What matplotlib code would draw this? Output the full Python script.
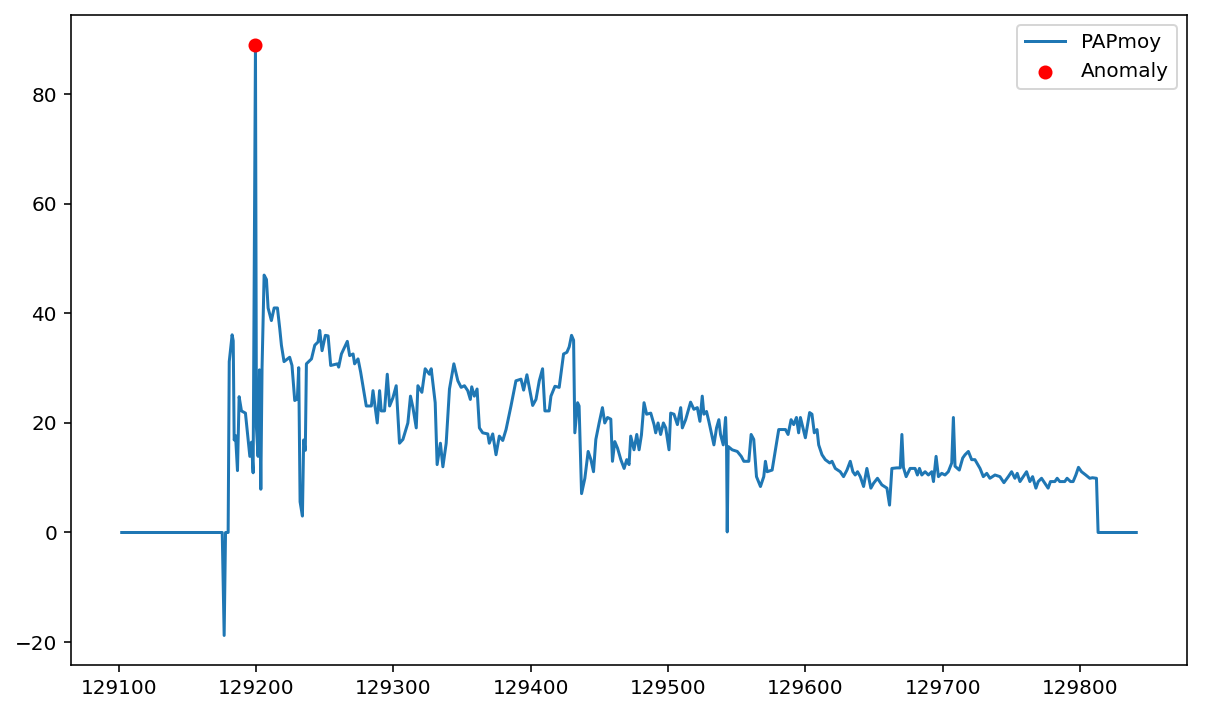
import matplotlib
matplotlib.use('Agg')
import matplotlib.pyplot as plt

# PAPmoy trace (x = sample index, y = value)
x_vals = [129102.1, 129175.3, 129176.7, 129177.7, 129179.6, 129180.4, 129182.5, 129183.3,
          129184.0, 129185.0, 129186.4, 129187.6, 129189.3, 129192.2, 129194.2, 129195.4,
          129196.6, 129197.8, 129199.5, 129200.2, 129201.4, 129202.4, 129203.4, 129204.3,
          129205.8, 129207.5, 129208.7, 129211.1, 129213.1, 129215.5, 129217.2, 129218.4,
          129220.3, 129224.4, 129226.1, 129228.1, 129230.0, 129231.0, 129232.0, 129233.7,
          129234.6, 129235.8,
          129236.6, 129240.3, 129242.7, 129245.1, 129246.3, 129248.0, 129250.4, 129252.4,
          129254.3, 129259.2, 129260.1, 129262.1, 129266.4, 129268.1, 129270.6, 129271.7,
          129274.2, 129276.1, 129280.2, 129283.9, 129285.1, 129288.2, 129289.9, 129291.1,
          129293.5, 129295.5, 129297.2, 129299.6, 129302.0, 129304.4, 129306.9, 129310.5,
          129312.4, 129314.2, 129316.6, 129317.8, 129320.7, 129323.1, 129326.2, 129327.5,
          129330.4, 129331.8, 129334.2, 129336.0, 129338.4, 129340.8, 129344.0, 129346.9,
          129349.3, 129351.7, 129354.1, 129356.0, 129357.0, 129358.9, 129360.9, 129362.6,
          129365.0, 129368.7, 129369.8, 129372.3, 129374.7, 129377.1, 129379.6, 129382.0,
          129385.6, 129389.2, 129392.9, 129394.8, 129397.2, 129400.1, 129401.4, 129403.8,
          129406.2, 129408.6, 129410.3, 129413.4, 129414.7, 129417.6, 129420.7, 129423.9,
          129426.3, 129428.0, 129429.7, 129431.2, 129432.1, 129434.1, 129435.2, 129437.0,
          129439.4, 129441.8, 129443.8, 129445.7, 129447.4, 129449.8, 129452.2, 129453.9,
          129455.9, 129458.3, 129459.5, 129461.2, 129463.2,
          129465.6, 129468.0, 129469.9, 129471.6, 129472.8, 129475.2, 129477.2, 129478.9,
          129480.6, 129482.5, 129484.4, 129487.4, 129489.8, 129491.0, 129492.7, 129494.6,
          129496.6, 129498.3, 129500.7, 129501.9, 129504.3, 129506.8, 129509.2, 129510.4,
          129512.8, 129516.4, 129518.8, 129521.3, 129523.2, 129524.9, 129526.1, 129528.0,
          129529.7, 129531.5, 129533.4, 129535.3, 129537.0, 129538.2, 129540.2, 129541.9,
          129542.6, 129543.1, 129543.8, 129546.7, 129550.4, 129553.3, 129555.2, 129558.8,
          129560.5, 129562.4, 129564.4, 129567.3, 129569.7, 129570.9, 129572.2, 129575.8,
          129580.6, 129585.5, 129587.4, 129589.6, 129591.5, 129593.5, 129595.1,
          129596.4, 129600.0, 129603.1, 129604.8, 129606.5, 129608.5, 129609.7, 129612.1,
          129614.5, 129617.7, 129619.4, 129621.8, 129625.4, 129627.8, 129630.3, 129632.7,
          129634.6, 129636.3, 129638.0, 129640.0, 129642.4, 129644.8, 129647.7, 129649.7,
          129652.5, 129655.7, 129659.4, 129661.3, 129663.0, 129666.6, 129669.1, 129670.3,
          129671.4, 129673.4, 129676.3, 129679.9, 129681.6, 129683.1, 129684.8, 129687.2,
          129689.6, 129692.1, 129693.3, 129695.2, 129696.9, 129699.3, 129701.7, 129704.1,
          129706.6, 129707.8, 129709.0, 129712.1, 129714.6, 129716.3, 129718.7, 129721.1,
          129723.5,
          129727.2, 129729.6, 129732.1, 129734.4, 129738.1, 129741.7, 129744.6, 129747.8,
          129750.2, 129752.6, 129754.3, 129756.3, 129758.7, 129761.1, 129763.5, 129765.5,
          129767.9, 129769.6, 129772.0, 129774.4, 129776.8, 129778.5, 129781.7, 129783.4,
          129785.3, 129788.9, 129790.6, 129793.1, 129795.0, 129797.0, 129798.9, 129801.1,
          129804.2, 129807.1, 129809.1, 129812.0, 129813.2, 129841.0]

y_vals = [0, 0, -18.8, 0, 0, 31.2, 36.1, 35,
          16.9, 17.7, 11.3, 24.8, 22.2, 21.8, 16.9, 13.9,
          16.5, 10.9, 89.1, 19.2, 13.9, 29.7, 7.9, 30.1,
          47, 46.2, 41, 38.7, 41, 41, 37.2, 34.2,
          31.2, 32, 30.5, 24.1, 24.4, 30.1, 5.6, 3,
          16.9, 15,
          30.8, 31.7, 34.2, 34.8, 36.9, 33.2, 36, 35.9,
          30.5, 30.8, 30.2, 32.6, 34.9, 32.3, 32.6, 30.8,
          31.7, 29.3, 23.1, 23.1, 25.9, 20, 25.9, 22.2,
          22.2, 28.9, 23.1, 24.6, 26.8, 16.3, 17, 20,
          24.9, 22.8, 19.1, 26.8, 25.6, 29.9, 28.9, 29.9,
          23.7, 12.4, 16.3, 12, 16.3, 26.2, 30.8, 27.7,
          26.5, 26.8, 25.9, 24.3, 26.6, 24.9, 26.2, 19.1,
          18.2, 18, 16.3, 18, 14.2, 17.6, 16.8, 18.8,
          23.1, 27.7, 28, 26, 28.8, 24.9, 23.2, 24.3,
          27.7, 29.9, 22.2, 22.2, 24.9, 26.7, 26.5, 32.6,
          32.9, 33.9, 36, 35.1, 18.2, 23.7, 23.1, 7.1,
          9.9, 14.8, 13.3, 11.1, 17, 20, 22.8, 20,
          21, 20.7, 13, 16.6, 15.4,
          13.3, 11.7, 13.3, 12.4, 17.6, 15.1, 17.9, 15.1,
          17.8, 23.7, 21.6, 21.8, 19.7, 18.2, 20, 17.9,
          20, 19.1, 15.1, 21.8, 21.6, 19.7, 22.8, 19.1,
          20.6, 23.8, 22.5, 22.8, 20.3, 24.9, 21.6, 22.1,
          20.3, 18.2, 16, 19.1, 20.6, 17.9, 16, 21,
          15.7, 0.1, 15.7, 15.1, 14.8, 13.9, 13, 13,
          17.9, 17, 10.2, 8.4, 10.2, 13, 11.1, 11.4,
          18.8, 18.8, 17.9, 20.6, 19.7, 21, 18.2,
          21, 17.3, 21.9, 21.6, 18.2, 18.8, 16, 14.2,
          13.3, 12.7, 13, 11.7, 11.1, 10.2, 11.4, 13,
          11.1, 10.5, 11.1, 10.2, 8.4, 11.7, 8.1, 9,
          9.9, 8.7, 8.1, 5, 11.7, 11.8, 11.8, 17.9,
          11.9, 10.2, 11.7, 11.7, 10.5, 11.7, 10.5, 11.1,
          10.5, 11.1, 9.3, 13.9, 10.2, 10.8, 10.5, 11.1,
          12.7, 21, 12.1, 11.4, 13.6, 14.2, 14.8, 13.3,
          13.3,
          11.7, 10.2, 10.8, 9.9, 10.5, 10.2, 9.1, 10.2,
          11.1, 9.9, 10.8, 9.3, 10.2, 11.1, 9.3, 10.2,
          8.1, 9.3, 9.9, 9, 8.1, 9.3, 9.3, 9.9,
          9.3, 9.3, 9.9, 9.3, 9.3, 10.5, 11.9, 11.1,
          10.5, 9.9, 10, 9.9, 0, 0]

anomaly_x = [129199.5]
anomaly_y = [89.1]

fig = plt.figure(figsize=(1232 / 144, 728 / 144), dpi=144)
ax = fig.add_axes([71 / 1232, 63 / 728, 1116 / 1232, 650 / 728])

ax.plot(x_vals, y_vals, color='#1f77b4', linewidth=1.5, label='PAPmoy')
ax.scatter(anomaly_x, anomaly_y, color='red', s=36, label='Anomaly', zorder=3)

ax.set_yticks([-20, 0, 20, 40, 60, 80])
ax.set_xticks([129100, 129200, 129300, 129400, 129500, 129600, 129700, 129800])
ax.legend(loc='upper right')

fig.savefig('out.png', dpi=144)
